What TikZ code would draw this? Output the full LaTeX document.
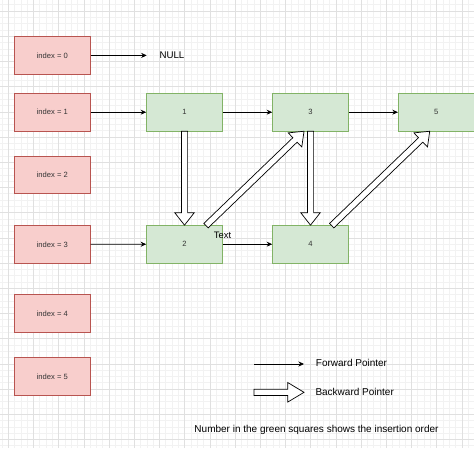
\documentclass[tikz,border=0pt]{standalone}
\usepackage{fontspec}
\setmainfont{Liberation Sans}
\usetikzlibrary{arrows.meta,calc}
\definecolor{idxfill}{HTML}{F8CECC}
\definecolor{idxline}{HTML}{B85450}
\definecolor{lstfill}{HTML}{D5E8D4}
\definecolor{lstline}{HTML}{82B366}
\definecolor{gridminor}{HTML}{F2F2F2}
\definecolor{gridmajor}{HTML}{E0E0E0}
% hollow backward pointer from #1 to #2, head length #3
\newcommand{\backptr}[3]{%
  \coordinate (bph) at ($(#2)!#3!(#1)$);
  \draw[bwd] ($(#1)!3.1pt!90:(#2)$) -- ($(bph)!3.1pt!90:(#2)$)
    -- ($(bph)!9.8pt!90:(#2)$) -- (#2) -- ($(bph)!9.8pt!-90:(#2)$)
    -- ($(bph)!3.1pt!-90:(#2)$) -- ($(#1)!3.1pt!-90:(#2)$) -- cycle;
}
\begin{document}
\begin{tikzpicture}[x=1pt,y=-1pt,
    idx/.style={draw=idxline,fill=idxfill,line width=0.6pt,minimum width=76pt,minimum height=37.5pt,
      inner sep=0pt,text=black!80,font=\fontsize{7.6}{9}\selectfont},
    lst/.style={idx,draw=lstline,fill=lstfill},
    fwd/.style={line width=0.7pt,-{Stealth[length=5.5pt,width=5pt]}},
    bwd/.style={line width=0.7pt,fill=white,line join=miter},
    lbl/.style={inner sep=0pt,font=\fontsize{10}{12}\selectfont}]
    \useasboundingbox (0,0) rectangle (474,448);
    \fill[white] (0,0) rectangle (474,448);
    % grid
    \foreach \gx in {0,...,75} \draw[gridminor,line width=0.5pt] ({1.9+6.3*\gx},0) -- ++(0,448);
    \foreach \gy in {0,...,71} \draw[gridminor,line width=0.5pt] (0,{4.7+6.3*\gy}) -- ++(474,0);
    \foreach \gx in {0,...,18} \draw[gridmajor,line width=0.5pt] ({8.2+25.2*\gx},0) -- ++(0,448);
    \foreach \gy in {0,...,17} \draw[gridmajor,line width=0.5pt] (0,{11+25.2*\gy}) -- ++(474,0);
    % index table
    \node[idx] (i0) at (52.3,55.4) {index = 0};
    \node[idx] (i1) at (52.3,112.2) {index = 1};
    \node[idx] (i2) at (52.3,174.7) {index = 2};
    \node[idx] (i3) at (52.3,244.3) {index = 3};
    \node[idx] (i4) at (52.3,313.3) {index = 4};
    \node[idx] (i5) at (52.3,376.3) {index = 5};
    % list nodes
    \node[lst] (b1) at (184.5,112.2) {1};
    \node[lst] (b3) at (310.5,112.2) {3};
    \node[lst] (b5) at (436.2,112.2) {5};
    \node[lst] (b2) at (184.5,244.2) {2};
    \node[lst] (b4) at (310.5,244.2) {4};
    \node[lbl,anchor=west,font=\fontsize{9.7}{11}\selectfont] (null) at (159.3,55.4) {NULL};
    \node[lbl,font=\fontsize{9.4}{11}\selectfont] (txt) at (222.5,235) {Text};
    \coordinate (nullend) at (146.7,55.4);
    % forward pointers
    \draw[fwd] (i0) -- (nullend);
    \draw[fwd] (i1) -- (b1);
    \draw[fwd] (i3) -- (b2);
    \draw[fwd] (b1) -- (b3);
    \draw[fwd] (b3) -- (b5);
    \draw[fwd] (b2) -- (b4);
    % backward pointers
    \backptr{b1.south}{b2.north}{12.5pt}
    \backptr{b3.south}{b4.north}{12.5pt}
    \backptr{$(b2.north)+(21.5,0.5)$}{$(b3.south)+(-6.5,0)$}{12.5pt}
    \backptr{$(b4.north)+(21.2,0.5)$}{$(b5.south)+(-6.5,0)$}{12.5pt}
    % legend
    \coordinate (fa) at (254,364);
    \coordinate (fb) at (304,364);
    \coordinate (ba) at (254,392.3);
    \coordinate (bb) at (304,392.3);
    \draw[fwd] (fa) -- (fb);
    \backptr{ba}{bb}{16.3pt}
    \node[lbl,anchor=west] (fwdtxt) at (315.7,363) {Forward Pointer};
    \node[lbl,anchor=west] (bwdtxt) at (315.3,392.3) {Backward Pointer};
    \node[lbl] (note) at (316.5,430) {Number in the green squares shows the insertion order};
\end{tikzpicture}
\end{document}
